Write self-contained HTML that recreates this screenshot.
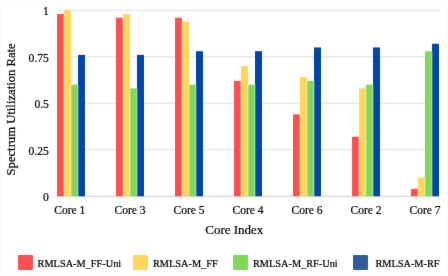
<!DOCTYPE html><html><head><meta charset="utf-8"><style>html,body{margin:0;padding:0;background:#fff;overflow:hidden;}svg{display:block;}text{font-family:"Liberation Serif",serif;fill:#000;stroke:#000;stroke-width:0.22px;}</style></head><body>
<svg width="448" height="276" viewBox="0 0 448 276">
<defs><filter id="f" x="0" y="0" width="448" height="276" filterUnits="userSpaceOnUse" color-interpolation-filters="sRGB"><feConvolveMatrix order="3" kernelMatrix="0.01 0.05 0.01 0.05 0.76 0.05 0.01 0.05 0.01" edgeMode="duplicate" preserveAlpha="true"/></filter></defs><g filter="url(#f)">
<rect x="0" y="0" width="448" height="276" fill="#fff"/>
<rect x="57" y="195.75" width="382" height="1" fill="#d0d0d0"/>
<text transform="translate(48.90,201.00) scale(0.915,1)" font-size="12.7" text-anchor="end">0</text>
<rect x="57" y="149.25" width="382" height="1" fill="#e0e0e0"/>
<text transform="translate(48.90,154.50) scale(0.915,1)" font-size="12.7" text-anchor="end">0.25</text>
<rect x="57" y="102.75" width="382" height="1" fill="#e0e0e0"/>
<text transform="translate(48.90,108.00) scale(0.915,1)" font-size="12.7" text-anchor="end">0.5</text>
<rect x="57" y="56.25" width="382" height="1" fill="#e0e0e0"/>
<text transform="translate(48.90,61.50) scale(0.915,1)" font-size="12.7" text-anchor="end">0.75</text>
<rect x="57" y="9.75" width="382" height="1" fill="#e0e0e0"/>
<text transform="translate(48.90,15.00) scale(0.915,1)" font-size="12.7" text-anchor="end">1</text>
<rect x="57" y="13.97" width="7" height="182.28" fill="#FF5050"/>
<rect x="64" y="10.25" width="7" height="186.00" fill="#FFD75A"/>
<rect x="71" y="84.65" width="7" height="111.60" fill="#80D857"/>
<rect x="78" y="54.89" width="7" height="141.36" fill="#0046AA"/>
<rect x="63.5" y="13.97" width="1" height="182.28" fill="#fff" fill-opacity="0.5"/>
<rect x="70.5" y="84.65" width="1" height="111.60" fill="#fff" fill-opacity="0.5"/>
<rect x="77.5" y="84.65" width="1" height="111.60" fill="#fff" fill-opacity="0.5"/>
<text transform="translate(69.80,213.80) scale(0.865,1)" font-size="13.4" text-anchor="middle">Core 1</text>
<rect x="116" y="17.69" width="7" height="178.56" fill="#FF5050"/>
<rect x="123" y="13.97" width="7" height="182.28" fill="#FFD75A"/>
<rect x="130" y="88.37" width="7" height="107.88" fill="#80D857"/>
<rect x="137" y="54.89" width="7" height="141.36" fill="#0046AA"/>
<rect x="122.5" y="17.69" width="1" height="178.56" fill="#fff" fill-opacity="0.5"/>
<rect x="129.5" y="88.37" width="1" height="107.88" fill="#fff" fill-opacity="0.5"/>
<rect x="136.5" y="88.37" width="1" height="107.88" fill="#fff" fill-opacity="0.5"/>
<text transform="translate(130.00,213.80) scale(0.865,1)" font-size="13.4" text-anchor="middle">Core 3</text>
<rect x="175" y="17.69" width="7" height="178.56" fill="#FF5050"/>
<rect x="182" y="21.41" width="7" height="174.84" fill="#FFD75A"/>
<rect x="189" y="84.65" width="7" height="111.60" fill="#80D857"/>
<rect x="196" y="51.17" width="7" height="145.08" fill="#0046AA"/>
<rect x="181.5" y="21.41" width="1" height="174.84" fill="#fff" fill-opacity="0.5"/>
<rect x="188.5" y="84.65" width="1" height="111.60" fill="#fff" fill-opacity="0.5"/>
<rect x="195.5" y="84.65" width="1" height="111.60" fill="#fff" fill-opacity="0.5"/>
<text transform="translate(189.00,213.80) scale(0.865,1)" font-size="13.4" text-anchor="middle">Core 5</text>
<rect x="234" y="80.93" width="7" height="115.32" fill="#FF5050"/>
<rect x="241" y="66.05" width="7" height="130.20" fill="#FFD75A"/>
<rect x="248" y="84.65" width="7" height="111.60" fill="#80D857"/>
<rect x="255" y="51.17" width="7" height="145.08" fill="#0046AA"/>
<rect x="240.5" y="80.93" width="1" height="115.32" fill="#fff" fill-opacity="0.5"/>
<rect x="247.5" y="84.65" width="1" height="111.60" fill="#fff" fill-opacity="0.5"/>
<rect x="254.5" y="84.65" width="1" height="111.60" fill="#fff" fill-opacity="0.5"/>
<text transform="translate(248.00,213.80) scale(0.865,1)" font-size="13.4" text-anchor="middle">Core 4</text>
<rect x="293" y="114.41" width="7" height="81.84" fill="#FF5050"/>
<rect x="300" y="77.21" width="7" height="119.04" fill="#FFD75A"/>
<rect x="307" y="80.93" width="7" height="115.32" fill="#80D857"/>
<rect x="314" y="47.45" width="7" height="148.80" fill="#0046AA"/>
<rect x="299.5" y="114.41" width="1" height="81.84" fill="#fff" fill-opacity="0.5"/>
<rect x="306.5" y="80.93" width="1" height="115.32" fill="#fff" fill-opacity="0.5"/>
<rect x="313.5" y="80.93" width="1" height="115.32" fill="#fff" fill-opacity="0.5"/>
<text transform="translate(307.00,213.80) scale(0.865,1)" font-size="13.4" text-anchor="middle">Core 6</text>
<rect x="352" y="136.73" width="7" height="59.52" fill="#FF5050"/>
<rect x="359" y="88.37" width="7" height="107.88" fill="#FFD75A"/>
<rect x="366" y="84.65" width="7" height="111.60" fill="#80D857"/>
<rect x="373" y="47.45" width="7" height="148.80" fill="#0046AA"/>
<rect x="358.5" y="136.73" width="1" height="59.52" fill="#fff" fill-opacity="0.5"/>
<rect x="365.5" y="88.37" width="1" height="107.88" fill="#fff" fill-opacity="0.5"/>
<rect x="372.5" y="84.65" width="1" height="111.60" fill="#fff" fill-opacity="0.5"/>
<text transform="translate(366.00,213.80) scale(0.865,1)" font-size="13.4" text-anchor="middle">Core 2</text>
<rect x="411" y="188.81" width="7" height="7.44" fill="#FF5050"/>
<rect x="418" y="177.65" width="7" height="18.60" fill="#FFD75A"/>
<rect x="425" y="51.17" width="7" height="145.08" fill="#80D857"/>
<rect x="432" y="43.73" width="7" height="152.52" fill="#0046AA"/>
<rect x="417.5" y="188.81" width="1" height="7.44" fill="#fff" fill-opacity="0.5"/>
<rect x="424.5" y="177.65" width="1" height="18.60" fill="#fff" fill-opacity="0.5"/>
<rect x="431.5" y="51.17" width="1" height="145.08" fill="#fff" fill-opacity="0.5"/>
<text transform="translate(425.00,213.80) scale(0.865,1)" font-size="13.4" text-anchor="middle">Core 7</text>
<text transform="translate(234.30,234.40) scale(0.985,1)" font-size="13.2" text-anchor="middle">Core Index</text>
<text transform="translate(15.00,109.40) rotate(-90) scale(0.96,1)" font-size="13.2" text-anchor="middle">Spectrum Utilization Rate</text>
<rect x="18" y="255" width="15" height="15" rx="1" fill="#FF5050"/>
<text transform="translate(37.60,267.20)" font-size="10.3" text-anchor="start">RMLSA-M_FF-Uni</text>
<rect x="133" y="255" width="15" height="15" rx="1" fill="#FFD75A"/>
<text transform="translate(153.00,267.20)" font-size="10.3" text-anchor="start">RMLSA-M_FF</text>
<rect x="233" y="255" width="15" height="15" rx="1" fill="#80D857"/>
<text transform="translate(253.00,267.20)" font-size="10.3" text-anchor="start">RMLSA-M_RF-Uni</text>
<rect x="353" y="255" width="15" height="15" rx="1" fill="#2E5C9A"/>
<text transform="translate(375.40,267.20)" font-size="10.3" text-anchor="start">RMLSA-M-RF</text>
<rect x="0.5" y="0.5" width="447" height="275" fill="none" stroke="#fafafa" stroke-width="1"/>
</g>
</svg></body></html>
